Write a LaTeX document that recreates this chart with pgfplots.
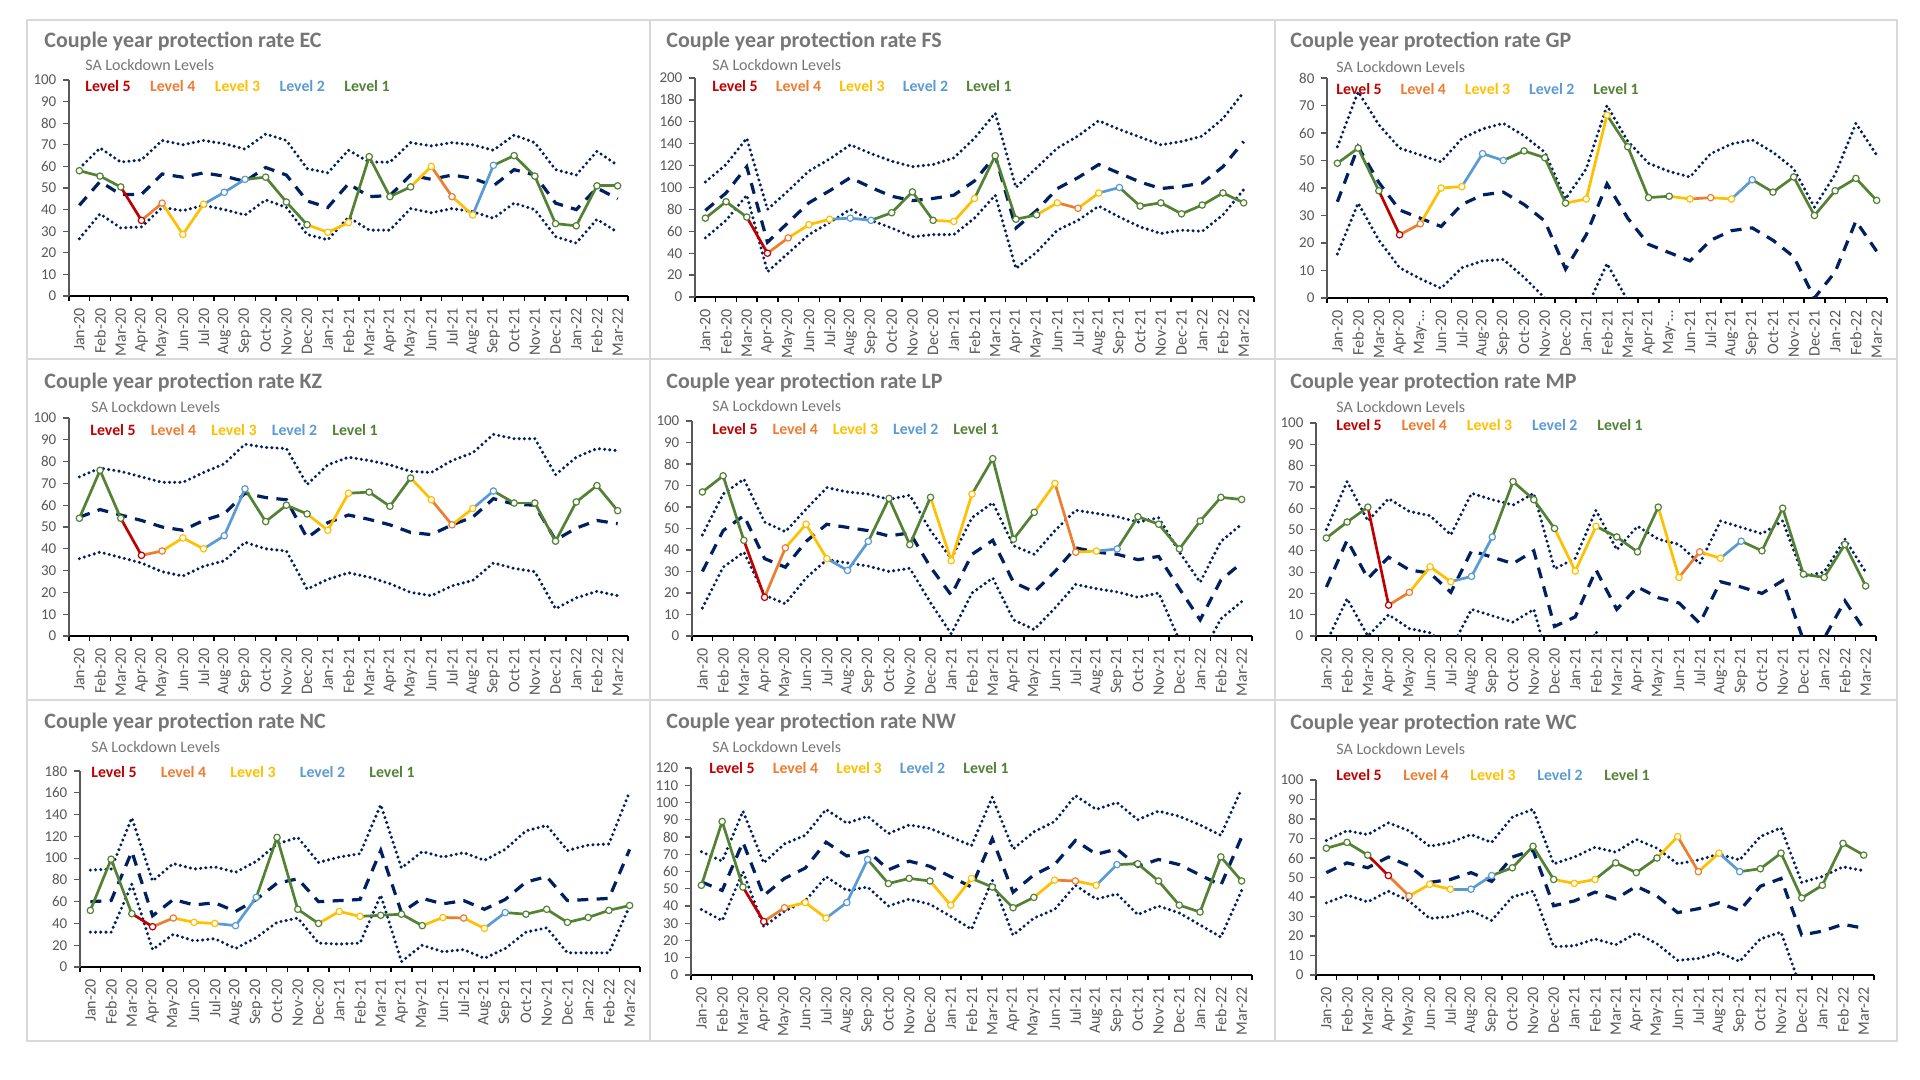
\documentclass[border=0pt]{standalone}
\usepackage{fontspec}
\setmainfont{Carlito}
\usepackage{pgfplots}
\usepackage{pgfplotstable}
\pgfplotsset{compat=1.18}

\definecolor{lv5}{RGB}{192,0,0}
\definecolor{lv4}{RGB}{237,125,49}
\definecolor{lv3}{RGB}{255,192,0}
\definecolor{lv2}{RGB}{91,155,213}
\definecolor{lv1}{RGB}{84,130,53}
\definecolor{navy}{RGB}{0,32,96}
\definecolor{txtgray}{RGB}{118,118,118}
\definecolor{tickgray}{RGB}{89,89,89}
\definecolor{framegray}{RGB}{217,217,217}

% columns: x = month index, lvl = lockdown level of the point,
% seg = level of the segment leaving the point, v = rate, m = mean, u/l = upper/lower bound
\pgfplotstableread{
x lvl seg v m u l
0 1 1 58 42 59 26.5
1 1 1 55.5 53 68.5 38
2 1 5 50.5 47 62 31.5
3 5 4 35 47 63 32
4 4 3 43 56.5 72 41
5 3 3 28.5 55 70 39.5
6 3 2 42.5 57 72 42
7 2 2 48 55.5 70.5 40
8 2 1 54 53 68 37.5
9 1 1 55 59.5 75 44.5
10 1 1 43.5 56 72 41
11 1 3 33 44 59 28.5
12 3 3 29.5 41 57 26
13 3 1 34 52 67.5 36.5
14 1 1 64.5 46 62 30.5
15 1 1 46 46.5 62 30.5
16 1 3 50.5 56 71 40.5
17 3 4 60 54 69.5 38.5
18 4 3 46 56 71 40.5
19 3 2 37.5 54.5 70 39
20 2 1 60.5 51 67.5 36
21 1 1 65 58.5 74.5 43
22 1 1 55.5 56 71 40
23 1 1 33.5 43 58.5 27.5
24 1 1 32.5 40 56 24.5
25 1 1 51 50 67 35.5
26 1 1 51 45 60.5 29.5
}\dEC

\pgfplotstableread{
x lvl seg v m u l
0 1 1 72 79 105 54
1 1 1 87 95 121 70
2 1 5 73 119 145 93
3 5 4 40 50 80 23
4 4 3 54 68 97 40
5 3 3 66 86 115 57
6 3 2 71 97 126 68
7 2 2 72 109 139 80
8 2 1 70 100 131 70
9 1 1 77 92 124 63
10 1 1 96 88 119 55
11 1 3 70 90 121 57
12 3 3 69 93 127 57
13 3 1 90 106 145 72
14 1 1 129 129 168 93
15 1 1 71 63 100 26
16 1 3 75 79 118 41
17 3 4 86 99 136 61
18 4 3 81 109 147 70
19 3 2 95 121 161 83
20 2 1 100 113 153 73
21 1 1 83 105 146 64
22 1 1 86 99 139 58
23 1 1 76 101 142 61
24 1 1 84 104 147 60
25 1 1 95 119 163 75
26 1 1 86 142 187 98
}\dFS

\pgfplotstableread{
x lvl seg v m u l
0 1 1 49 35 55 16
1 1 1 54.5 55 75 34.5
2 1 5 39 42 63 21
3 5 4 23 32 54.5 11
4 4 3 27 29 52 7
5 3 3 40 26 49.5 3.5
6 3 2 40.5 34 58 11
7 2 2 52.5 37.5 61.5 13.5
8 2 1 50 38.5 63.5 14
9 1 1 53.5 34 59 7.5
10 1 1 51 28 53 0
11 1 3 34.5 10.5 36 -17
12 3 3 36 23 47 -4
13 3 1 66.5 41.5 70 12.5
14 1 1 55 29 57 -1
15 1 1 36.5 19.5 49 -10
16 1 3 37 16.5 46 -13
17 3 4 36 13.5 44 -17
18 4 3 36.5 21 52.5 -10
19 3 2 36 24.5 56 -7
20 2 1 43 25.5 57.5 -7
21 1 1 38.5 21 53 -12
22 1 1 44 15 47 -18
23 1 1 30 0 33 -34
24 1 1 39 9.5 45 -26
25 1 1 43.5 28 63.5 -8
26 1 1 35.5 17 52 -18
}\dGP

\pgfplotstableread{
x lvl seg v m u l
0 1 1 54 54.5 73 35.5
1 1 1 76 58 77 38.5
2 1 5 54 55.5 75.5 36
3 5 4 37 53 73 33.5
4 4 3 39 50 70.5 29.5
5 3 3 45 48.5 70.5 27.5
6 3 2 40 53 75 32
7 2 2 46 56 79 34.5
8 2 1 67.5 65.5 88 43
9 1 1 52.5 63.5 86.5 40
10 1 1 60 62.5 86 39
11 1 3 56 45 69.5 21.5
12 3 3 48.5 52 78.5 26
13 3 1 65.5 55.5 82 29
14 1 1 66 53.5 80.5 27
15 1 1 59.5 51 78.5 24
16 1 3 72.5 47.5 75.5 20
17 3 4 62.5 46.5 75 18.5
18 4 3 51 51 80.5 23
19 3 2 58.5 54.5 84 25.5
20 2 1 66.5 63 92.5 33.5
21 1 1 61 60.5 90.5 31
22 1 1 61 60 90.5 29.5
23 1 1 43.5 44 74 12.5
24 1 1 61.5 49.5 82 17.5
25 1 1 69 53 86 20.5
26 1 1 57.5 51.5 85 18.5
}\dKZ

\pgfplotstableread{
x lvl seg v m u l
0 1 1 67 30 47 13
1 1 1 74.5 49 66 32
2 1 5 44.5 56 73 39
3 5 4 18 36 53 19
4 4 3 41 32 48.5 15
5 3 3 52 44 59 27
6 3 2 36 52 69 35.5
7 2 2 30.5 50.5 67 34
8 2 1 44 49 66 32.5
9 1 1 64 46.5 63.5 30
10 1 1 42.5 48 65.5 31.5
11 1 3 64.5 32 49 15.5
12 3 3 35 19 36 1
13 3 1 66 38 55 20
14 1 1 82.5 44.5 62 27
15 1 1 45 25 42 7.5
16 1 3 57.5 20.5 38 3
17 3 4 71 30 49 13
18 4 3 39 41 58.5 24
19 3 2 39.5 39 57 22
20 2 1 40.5 38 55.5 20.5
21 1 1 55.5 35.5 53 18
22 1 1 52 37 55 20
23 1 1 40.5 22 39 -2
24 1 1 53.5 7.5 25 -10
25 1 1 64.5 26 44 8
26 1 1 63.5 34 52 16
}\dLP

\pgfplotstableread{
x lvl seg v m u l
0 1 1 46 23 50 -3
1 1 1 53.5 45 72.5 17.5
2 1 5 60.5 27 54 0
3 5 4 14.5 37 64.5 10
4 4 3 20.5 31 58.5 3.5
5 3 3 32.5 29.5 56.5 1.5
6 3 2 25.5 20.5 47.5 -6
7 2 2 28 40 67 12.5
8 2 1 46.5 37 64 9.5
9 1 1 72.5 34 61.5 6.5
10 1 1 64 40 67 12.5
11 1 3 50.5 4.5 31.5 -22
12 3 3 30.5 9 36.5 -18
13 3 1 51.5 31 59 2
14 1 1 46.5 12.5 40.5 -16
15 1 1 39.5 23 51.5 -6
16 1 3 60.5 18 45.5 -10
17 3 4 27.5 15.5 43 -12
18 4 3 39.5 6 34 -22
19 3 2 36.5 25.5 54 -2
20 2 1 44.5 23 51 -5
21 1 1 40 20 48 -8
22 1 1 60 26 54 -2
23 1 1 29 -2 28 -30
24 1 1 27.5 -1 30 -30
25 1 1 43 16.5 45.5 -12
26 1 1 23.5 2 30 -25
}\dMP

\pgfplotstableread{
x lvl seg v m u l
0 1 1 52 60 89 32
1 1 1 99 61 90 32
2 1 5 49 106 137 76
3 5 4 37 47 79 16
4 4 3 45 62 95 30
5 3 3 41 57 90 24
6 3 2 40 59 92 26
7 2 2 38 51 87 17
8 2 1 64 62 97 27
9 1 1 119 77 113 41
10 1 1 53 81 119 45
11 1 3 40 60 96 22
12 3 3 51 61 101 21
13 3 1 46.5 62 104 22
14 1 1 47.5 107 149 66
15 1 1 48.5 50 91 5
16 1 3 38 63 106 20
17 3 4 45.5 58 101 14
18 4 3 45 61 105 16
19 3 2 35.5 53 98 8
20 2 1 50 62 108 17
21 1 1 48.5 78 125 32
22 1 1 53 83 130 36
23 1 1 41 61 107 13
24 1 1 45.5 62 112 13
25 1 1 52 63 113 13
26 1 1 56.5 108 161 56
}\dNC

\pgfplotstableread{
x lvl seg v m u l
0 1 1 52 54 71.5 38
1 1 1 89 49 66 31.5
2 1 5 51 77 95 60
3 5 4 31 46 65 28
4 4 3 39 56 76 37
5 3 3 42 62 81 43
6 3 2 33 77 96 57
7 2 2 42 69 88 49
8 2 1 67 72 92 51
9 1 1 53 61 82 40
10 1 1 56 66 87 44
11 1 3 54.5 63 85 41
12 3 3 40.5 57 80 34
13 3 1 56 51 75 26.5
14 1 1 51 79 103 55
15 1 1 39 48 73 23
16 1 3 45 58 83 33
17 3 4 55 64 89 38
18 4 3 54.5 78 104 52
19 3 2 52 70 96 44
20 2 1 64 73 100 47
21 1 1 64.5 63 90 35
22 1 1 54.5 67 95 40
23 1 1 40.5 64 92 36
24 1 1 36.5 58 87 29
25 1 1 68.5 52 81 22
26 1 1 54.5 80 108 49
}\dNW

\pgfplotstableread{
x lvl seg v m u l
0 1 1 65 52.5 69 37
1 1 1 68 57.5 74 41
2 1 5 61.5 55 72 37.5
3 5 4 51 60.5 78 43
4 4 3 40.5 56 74 38
5 3 3 46.5 47.5 66 29
6 3 2 44 49 68 30
7 2 2 44 52.5 72 33
8 2 1 51 48 68 28
9 1 1 55 60.5 81 40
10 1 1 66 64 85 43
11 1 3 49 35.5 57 14.5
12 3 3 47 38 60.5 15
13 3 1 49 42.5 65.5 18.5
14 1 1 57.5 39 63 15.5
15 1 1 52.5 45.5 69.5 21.5
16 1 3 60 40.5 65 16
17 3 4 71 32 57 7.5
18 4 3 53 34 59 8.5
19 3 2 62.5 37 62 11.5
20 2 1 53 33 59 7
21 1 1 54.5 45.5 71 18.5
22 1 1 62.5 49.5 75.5 22
23 1 1 39.5 20.5 47.5 -8
24 1 1 46 22.5 50.5 -6
25 1 1 67.5 26 55.5 -3
26 1 1 61.5 24 53.5 -5
}\dWC

\pgfplotsset{
  colormap={lockdown}{rgb255=(84,130,53) rgb255=(91,155,213) rgb255=(255,192,0) rgb255=(237,125,49) rgb255=(192,0,0)},
  months/.style={xticklabels={Jan-20,Feb-20,Mar-20,Apr-20,May-20,Jun-20,Jul-20,Aug-20,Sep-20,Oct-20,Nov-20,Dec-20,Jan-21,Feb-21,Mar-21,Apr-21,May-21,Jun-21,Jul-21,Aug-21,Sep-21,Oct-21,Nov-21,Dec-21,Jan-22,Feb-22,Mar-22}},
  monthsGP/.style={xticklabels={Jan-20,Feb-20,Mar-20,Apr-20,May-\ldots,Jun-20,Jul-20,Aug-20,Sep-20,Oct-20,Nov-20,Dec-20,Jan-21,Feb-21,Mar-21,Apr-21,May-\ldots,Jun-21,Jul-21,Aug-21,Sep-21,Oct-21,Nov-21,Dec-21,Jan-22,Feb-22,Mar-22}},
  panel/.style={
    scale only axis, anchor=south west,
    xmin=-0.5, xmax=26.5, ymin=0,
    axis x line*=bottom, axis y line*=left, axis line style={-},
    x axis line style={black, line width=1.2pt},
    y axis line style={tickgray, line width=0.6pt},
    xtick={0,...,26}, months,
    minor xtick={-0.5,0.5,...,26.5},
    every major x tick/.style={draw=none},
    every minor x tick/.style={black, line width=0.7pt},
    every major y tick/.style={tickgray, line width=0.6pt},
    tick align=outside, major tick length=2.8pt, minor tick length=2.3pt,
    xticklabel style={rotate=90, anchor=east, font=\fontsize{8}{9}\selectfont, text=tickgray},
    yticklabel style={font=\fontsize{7.5}{9}\selectfont, text=tickgray},
    /pgf/number format/assume math mode=true,
    colormap name=lockdown, point meta min=1, point meta max=5,
  },
  band/.style={navy, line width=1.7pt, line cap=round, dash pattern=on 0pt off 2.6pt},
  avg/.style={navy, line width=1.6pt, dash pattern=on 5.5pt off 4.2pt},
  rate/.style={mesh, shader=flat corner, line width=1.35pt, point meta=\thisrow{seg}},
  dots/.style={scatter, only marks, mark=*, mark size=1.6pt, point meta=\thisrow{lvl},
    scatter/use mapped color={draw=mapped color, fill=white, line width=0.6pt}},
}

\newcommand\series[1]{%
  \addplot[band] table[x=x,y=u]{#1};
  \addplot[band] table[x=x,y=l]{#1};
  \addplot[avg] table[x=x,y=m]{#1};
  \addplot[rate] table[x=x,y=v]{#1};
  \addplot[dots] table[x=x,y=v]{#1};
}

% #1 region, #2/#3 title, #4/#5 subtitle, #6/#7 first legend entry, #8 legend step (px)
\newcommand\head[8]{%
  \node[anchor=base west, inner sep=0, text=txtgray, font=\bfseries\fontsize{11}{13}\selectfont] at (#2,#3) {Couple year protection rate #1};
  \node[anchor=base west, inner sep=0, text=txtgray, font=\fontsize{8}{9}\selectfont] at (#4,#5) {SA Lockdown Levels};
  \foreach \k/\c in {5/lv5,4/lv4,3/lv3,2/lv2,1/lv1}
    \node[anchor=base west, inner sep=0, text=\c, font=\bfseries\fontsize{7.9}{9}\selectfont] at ({#6+(5-\k)*#8},#7) {Level \k};
}

\begin{document}
\begin{tikzpicture}[x=0.5pt, y=-0.5pt]
\useasboundingbox (0,0) rectangle (1920,1080);
\fill[white] (0,0) rectangle (1920,1080);

\foreach \a/\b in {20/359,359/700,700/1041}{
  \draw[framegray, line width=0.75pt] (27,\a) rectangle (650,\b);
  \draw[framegray, line width=0.75pt] (650,\a) rectangle (1275,\b);
  \draw[framegray, line width=0.75pt] (1275,\a) rectangle (1897,\b);
}

\head{EC}{44}{48}{85}{71}{85}{92}{64.75}
\head{FS}{666}{48}{712}{71}{712}{92}{63.5}
\head{GP}{1290}{48}{1336}{73}{1336}{95}{64.25}
\head{KZ}{44}{388}{91}{412}{90}{435}{60.5}
\head{LP}{666}{388}{712}{411}{712}{434}{60.25}
\head{MP}{1290}{388}{1336}{412}{1336}{430}{65.25}
\head{NC}{44}{728}{91}{752}{91}{777}{69.5}
\head{NW}{666}{728}{712}{752}{709}{773}{63.5}
\head{WC}{1290}{729}{1336}{754}{1336}{780}{67}

\begin{axis}[panel, at={(34.5pt,-148pt)}, width=279.5pt, height=108pt, ymax=100, ytick distance=10]
\series{\dEC}
\end{axis}
\begin{axis}[panel, at={(347.5pt,-148.5pt)}, width=279.5pt, height=109.5pt, ymax=200, ytick distance=20]
\series{\dFS}
\end{axis}
\begin{axis}[panel, monthsGP, at={(663.5pt,-149pt)}, width=280pt, height=110pt, ymax=80, ytick distance=10]
\series{\dGP}
\end{axis}
\begin{axis}[panel, at={(34.5pt,-318pt)}, width=279.5pt, height=109pt, ymax=100, ytick distance=10]
\series{\dKZ}
\end{axis}
\begin{axis}[panel, at={(346pt,-318pt)}, width=280pt, height=107.5pt, ymax=100, ytick distance=10]
\series{\dLP}
\end{axis}
\begin{axis}[panel, at={(658pt,-318pt)}, width=280pt, height=106.5pt, ymax=100, ytick distance=10]
\series{\dMP}
\end{axis}
\begin{axis}[panel, at={(40pt,-483.5pt)}, width=280pt, height=98pt, ymax=180, ytick distance=20]
\series{\dNC}
\end{axis}
\begin{axis}[panel, at={(345.5pt,-487.5pt)}, width=280.5pt, height=103.5pt, ymax=120, ytick distance=10]
\series{\dNW}
\end{axis}
\begin{axis}[panel, at={(658pt,-487.5pt)}, width=279pt, height=97.5pt, ymax=100, ytick distance=10]
\series{\dWC}
\end{axis}
\end{tikzpicture}
\end{document}
